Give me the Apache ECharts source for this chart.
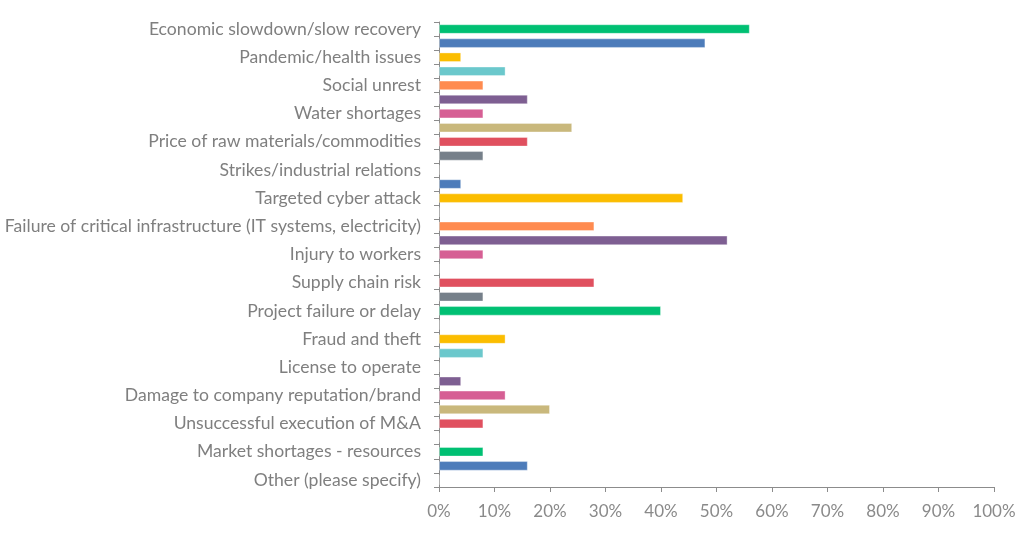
<!DOCTYPE html>
<html>
<head>
<meta charset="utf-8">
<script src="https://cdn.jsdelivr.net/npm/echarts@6/dist/echarts.min.js"></script>
<style>
html,body{margin:0;padding:0;background:#fff;}
#chart{width:1024px;height:536px;}
</style>
</head>
<body>
<div id="chart"></div>
<script>
// Visible category labels (every other category is shown on the axis)
const labels = [
  'Economic slowdown/slow recovery',
  'Pandemic/health issues',
  'Social unrest',
  'Water shortages',
  'Price of raw materials/commodities',
  'Strikes/industrial relations',
  'Targeted cyber attack',
  'Failure of critical infrastructure (IT systems, electricity)',
  'Injury to workers',
  'Supply chain risk',
  'Project failure or delay',
  'Fraud and theft',
  'License to operate',
  'Damage to company reputation/brand',
  'Unsuccessful execution of M&A',
  'Market shortages - resources',
  'Other (please specify)'
];
// Values (%) for all 33 bars, top to bottom
const values = [56, 48, 4, 12, 8, 16, 8, 24, 16, 8, 0, 4, 44, 0, 28, 52, 8, 0, 28, 8, 40, 0, 12, 8, 0, 4, 12, 20, 8, 0, 8, 16, 0];
const palette = ['#00c073', '#4d7cba', '#fbbd00', '#6bc8cc', '#ff8b50', '#7e5f92', '#d65f94', '#c9b87c', '#e0505f', '#76808a'];
const xTicks = [0, 10, 20, 30, 40, 50, 60, 70, 80, 90, 100];

const categories = values.map((v, i) => (i % 2 === 0 ? labels[i / 2] : ''));

const chart = echarts.init(document.getElementById('chart'), null, {renderer: 'canvas'});
chart.setOption({
  animation: false,
  backgroundColor: '#ffffff',
  grid: {left: 439, right: 30, top: 22, bottom: 49, containLabel: false},
  xAxis: {
    type: 'value',
    min: xTicks[0],
    max: xTicks[xTicks.length - 1],
    interval: 10,
    axisLine: {show: true, lineStyle: {color: '#8c8c8c', width: 1}},
    axisTick: {show: true, length: 5, lineStyle: {color: '#8c8c8c'}},
    splitLine: {show: false},
    axisLabel: {
      formatter: v => v + '%',
      color: '#8a8a8a',
      fontFamily: 'Lato',
      fontSize: 17,
      margin: 16
    }
  },
  yAxis: {
    type: 'category',
    inverse: true,
    data: categories,
    axisLine: {show: true, lineStyle: {color: '#8c8c8c', width: 1}},
    axisTick: {show: true, length: 5, interval: 0, alignWithLabel: false, lineStyle: {color: '#8c8c8c'}},
    axisLabel: {
      interval: 1,
      color: '#7f7f7f',
      fontFamily: 'Lato',
      fontSize: 17.6,
      margin: 18
    }
  },
  series: [{
    type: 'bar',
    data: values.map((v, i) => ({
      value: v,
      itemStyle: {color: palette[i % palette.length]}
    })),
    barWidth: '68%',
    itemStyle: {borderColor: 'rgba(255,255,255,0.35)', borderWidth: 1}
  }]
});
</script>
</body>
</html>
